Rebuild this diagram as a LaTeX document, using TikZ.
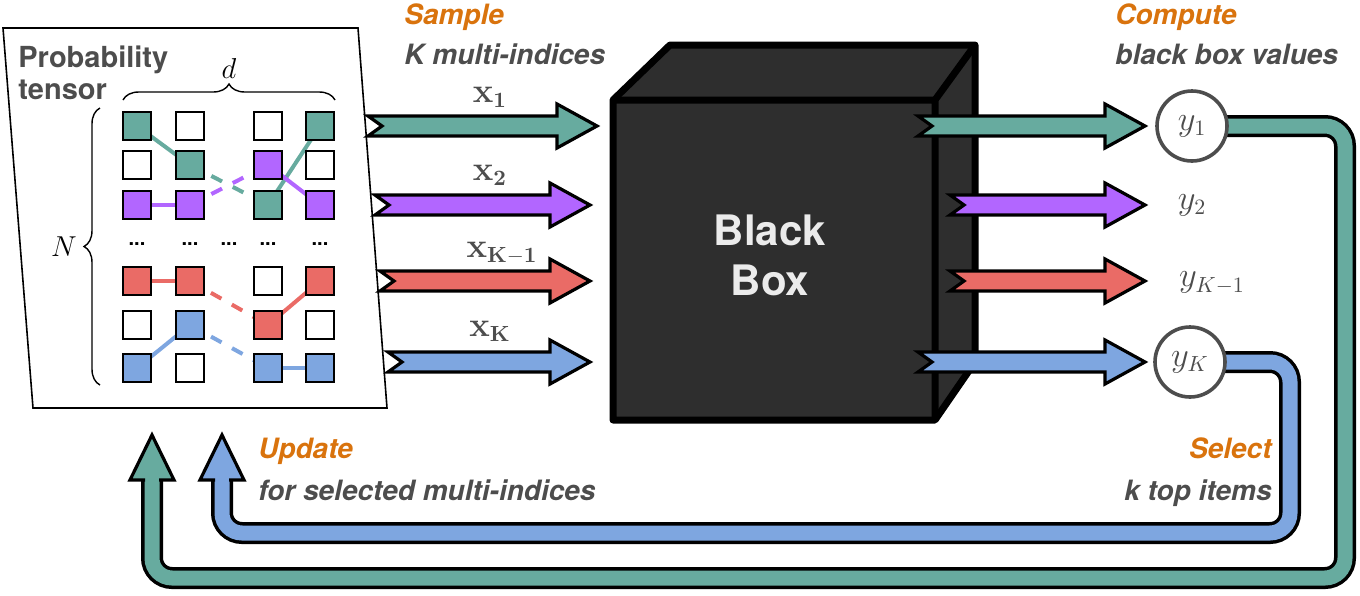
\documentclass[tikz,border=0pt]{standalone}
\usepackage[no-math]{fontspec}
\setmainfont{TeX Gyre Heros}
\usepackage{amsmath}
\usetikzlibrary{decorations.pathreplacing}
\definecolor{tealc}{HTML}{67AB9F}
\definecolor{purplec}{HTML}{B266FF}
\definecolor{redc}{HTML}{EA6B66}
\definecolor{bluec}{HTML}{7EA6E0}
\definecolor{orangec}{HTML}{D9730D}
\definecolor{grayc}{HTML}{4D4D4D}
\definecolor{boxc}{HTML}{2E2E2E}
\tikzstyle{cell}=[draw, line width=1pt, minimum size=14pt, inner sep=0pt]
\tikzstyle{head}=[font=\bfseries\itshape\fontsize{14}{16}\selectfont, text=orangec, anchor=base west, inner sep=0pt]
\tikzstyle{sub}=[head, text=grayc]
\tikzstyle{mlab}=[font=\fontsize{16}{18}\selectfont, text=grayc]
\tikzstyle{link}=[line width=2pt]
\tikzstyle{dlink}=[link, dash pattern=on 6pt off 6pt]
\tikzstyle{outval}=[draw=grayc, line width=1.8pt, circle, minimum size=35pt, inner sep=0pt, fill=white]
% fat arrow with a notched tail: colour, x from, x to, y
\newcommand{\fatarrow}[4]{%
  \draw[line width=1.6pt, fill=#1, line join=miter]
    (#2,#4-10) -- (#3-40,#4-10) -- (#3-40,#4-22) -- (#3,#4)
    -- (#3-40,#4+22) -- (#3-40,#4+10) -- (#2,#4+10) -- (#2+14,#4) -- cycle;}
% upward arrow head at the end of a feedback line
\newcommand{\uphead}[3]{%
  \draw[line width=1.6pt, fill=#1] (#2-7,#3+45) -- (#2-22,#3+45) -- (#2,#3)
    -- (#2+22,#3+45) -- (#2+7,#3+45);}

\begin{document}
\begin{tikzpicture}[x=0.5pt,y=-0.5pt]
  \useasboundingbox (0,0) rectangle (1360,595);

  % probability tensor panel
  \draw[line width=0.8pt] (3,28) -- (358,28) -- (387,408) -- (33,408) -- cycle;
  \node[font=\bfseries\fontsize{14.5}{16}\selectfont, text=grayc, align=left, anchor=north west, inner sep=0pt]
    (title) at (18,45) {Probability\\tensor};
  \draw[decorate, decoration={brace, amplitude=8pt}, line width=0.7pt] (123,100) -- (335,100)
    node[midway, above=7pt, font=\fontsize{14}{15}\selectfont] (dlab) {$d$};
  \draw[decorate, decoration={brace, amplitude=8pt}, line width=0.7pt] (100,385) -- (100,108)
    node[midway, left=8pt, font=\fontsize{14}{15}\selectfont] (nlab) {$N$};

  % links between selected cells
  \draw[link, tealc] (137,126) -- (190,165);
  \draw[dlink, tealc] (190,165) -- (268,205);
  \draw[link, tealc] (268,205) -- (320,126);
  \draw[link, purplec] (137,205) -- (190,205);
  \draw[dlink, purplec] (190,205) -- (268,165);
  \draw[link, purplec] (268,165) -- (320,205);
  \draw[link, redc] (137,281) -- (190,281);
  \draw[dlink, redc] (190,281) -- (268,325);
  \draw[link, redc] (268,325) -- (320,281);
  \draw[link, bluec] (137,368) -- (190,325);
  \draw[dlink, bluec] (190,325) -- (268,368);
  \draw[link, bluec] (268,368) -- (320,368);

  % tensor cells
  \foreach \c/\x in {1/137,2/190,4/268,5/320}
    \foreach \r/\y in {1/126,2/165,3/205,5/281,6/325,7/368}
      \node[cell, fill=white] (s\c\r) at (\x,\y) {};
  \foreach \c/\x/\r/\y/\col in {1/137/1/126/tealc, 5/320/1/126/tealc, 2/190/2/165/tealc,
      4/268/2/165/purplec, 1/137/3/205/purplec, 2/190/3/205/purplec, 4/268/3/205/tealc,
      5/320/3/205/purplec, 1/137/5/281/redc, 2/190/5/281/redc, 5/320/5/281/redc,
      2/190/6/325/bluec, 4/268/6/325/redc, 1/137/7/368/bluec, 4/268/7/368/bluec, 5/320/7/368/bluec}
    \node[cell, fill=\col] (s\c\r) at (\x,\y) {};
  \foreach \x in {137,190,229,268,320}
    \node[font=\bfseries] (dots\x) at (\x,244) {...};

  % sample
  \node[head] (sample) at (404,24) {Sample};
  \node[sub] (kmulti) at (404,64) {K multi-indices};
  \fatarrow{tealc}{368}{597}{126}
  \fatarrow{purplec}{375}{590}{205}
  \fatarrow{redc}{380}{590}{281}
  \fatarrow{bluec}{388}{590}{362}
  \node[mlab] (x1) at (490,97) {$\mathbf{x_1}$};
  \node[mlab] (x2) at (490,175) {$\mathbf{x_2}$};
  \node[mlab] (xk1) at (502,253) {$\mathbf{x_{K-1}}$};
  \node[mlab] (xk) at (490,331) {$\mathbf{x_K}$};

  % black box
  \draw[line width=3.5pt, fill=boxc, line join=round]
    (613,100) -- (670,45) -- (975,45) -- (975,362) -- (935,420) -- (613,420) -- cycle;
  \draw[line width=3.5pt, line join=round] (613,100) -- (935,100) -- (975,45) (935,100) -- (935,420);
  \node[font=\bfseries\fontsize{21}{25}\selectfont, text=white!92!black, align=center]
    (bbox) at (770,255) {Black\\Box};

  % compute
  \node[head] (compute) at (1115,24) {Compute};
  \node[sub] (bbvals) at (1115,64) {black box values};
  \fatarrow{tealc}{918}{1145}{126}
  \fatarrow{purplec}{950}{1145}{205}
  \fatarrow{redc}{950}{1145}{281}
  \fatarrow{bluec}{918}{1145}{362}
  \node[mlab] (y2) at (1192,205) {$y_2$};
  \node[mlab] (yk1) at (1212,283) {$y_{K-1}$};

  % feedback loops
  \draw[line width=11pt, rounded corners=10pt] (1215,126) -- (1345,126) -- (1345,578) -- (152,578) -- (152,478);
  \draw[line width=7.5pt, tealc, rounded corners=10pt] (1215,126) -- (1345,126) -- (1345,578) -- (152,578) -- (152,476);
  \uphead{tealc}{152}{435}
  \draw[line width=11pt, rounded corners=10pt] (1215,362) -- (1290,362) -- (1290,533) -- (222,533) -- (222,478);
  \draw[line width=7.5pt, bluec, rounded corners=10pt] (1215,362) -- (1290,362) -- (1290,533) -- (222,533) -- (222,476);
  \uphead{bluec}{222}{435}
  \node[outval, mlab] (y1) at (1192,126) {$y_1$};
  \node[outval, mlab] (yk) at (1190,362) {$y_K$};

  % select and update
  \node[head, anchor=base east] (select) at (1272,458) {Select};
  \node[sub, anchor=base east] (ktop) at (1272,500) {k top items};
  \node[head] (update) at (258,458) {Update};
  \node[sub] (forsel) at (258,500) {for selected multi-indices};
\end{tikzpicture}
\end{document}
